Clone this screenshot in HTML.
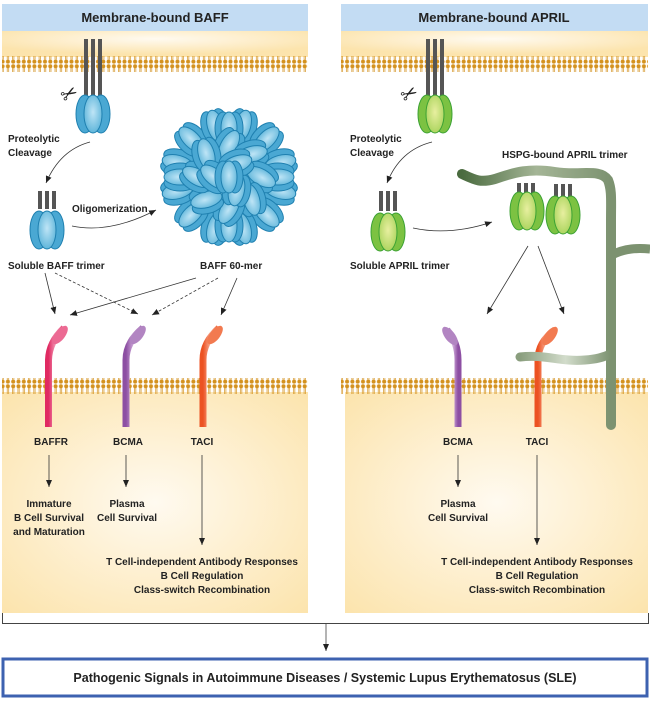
<!DOCTYPE html>
<html><head><meta charset="utf-8"><style>
html,body{margin:0;padding:0;background:#fff;}
svg{display:block;font-family:"Liberation Sans",sans-serif;font-weight:bold;}
</style></head><body>
<svg width="650" height="701" viewBox="0 0 650 701" xmlns="http://www.w3.org/2000/svg">
<defs>
<pattern id="mem" x="0" y="0" width="5.3" height="16" patternUnits="userSpaceOnUse">
<circle cx="2.6" cy="2.2" r="2" fill="#d4921f"/>
<circle cx="2.6" cy="13.6" r="2" fill="#d4921f"/>
<line x1="2" y1="4" x2="2" y2="11.8" stroke="#d4921f" stroke-width="0.7"/>
<line x1="3.3" y1="4" x2="3.3" y2="11.8" stroke="#d4921f" stroke-width="0.7"/>
</pattern>
<radialGradient id="yel" cx="0.5" cy="0.5" r="0.7">
<stop offset="0" stop-color="#fffaf0"/><stop offset="1" stop-color="#fce4ad"/>
</radialGradient>
<radialGradient id="yelt" cx="0.5" cy="0.3" r="0.6">
<stop offset="0" stop-color="#fffaf0"/><stop offset="1" stop-color="#fce4ad"/>
</radialGradient>
<radialGradient id="bmid" cx="0.5" cy="0.45" r="0.6"><stop offset="0" stop-color="#bfe5f6"/><stop offset="1" stop-color="#58b2d8"/></radialGradient>
<radialGradient id="gmid" cx="0.5" cy="0.45" r="0.6"><stop offset="0" stop-color="#e8efa0"/><stop offset="1" stop-color="#a8d35a"/></radialGradient>
<linearGradient id="hspg" x1="0" y1="0" x2="1" y2="0"><stop offset="0" stop-color="#4a6b3f"/><stop offset="0.5" stop-color="#a4b596"/><stop offset="1" stop-color="#7c9270"/></linearGradient>
<linearGradient id="hspg2" x1="0" y1="0" x2="1" y2="0"><stop offset="0" stop-color="#8a9e7e"/><stop offset="0.5" stop-color="#d2dccb"/><stop offset="1" stop-color="#7c9270"/></linearGradient>
<linearGradient id="pink" x1="0" y1="0" x2="1" y2="0"><stop offset="0" stop-color="#e02a62"/><stop offset="0.5" stop-color="#f4a3bd"/><stop offset="1" stop-color="#e02a62"/></linearGradient>
<linearGradient id="purp" x1="0" y1="0" x2="1" y2="0"><stop offset="0" stop-color="#8d4fa3"/><stop offset="0.5" stop-color="#d6b4df"/><stop offset="1" stop-color="#8d4fa3"/></linearGradient>
<linearGradient id="oran" x1="0" y1="0" x2="1" y2="0"><stop offset="0" stop-color="#ec5222"/><stop offset="0.5" stop-color="#f8b19a"/><stop offset="1" stop-color="#ec5222"/></linearGradient>
<marker id="ar" markerWidth="8" markerHeight="8" refX="7" refY="4" orient="auto" markerUnits="userSpaceOnUse">
<path d="M0,1 L7,4 L0,7 Z" fill="#222"/></marker>
<g id="btri">
<ellipse cx="-8" cy="0" rx="9" ry="19" fill="#4aa8d3" stroke="#1f80b0" stroke-width="1"/>
<ellipse cx="8" cy="0" rx="9" ry="19" fill="#4aa8d3" stroke="#1f80b0" stroke-width="1"/>
<ellipse cx="0" cy="0" rx="9" ry="19" fill="url(#bmid)" stroke="#1f80b0" stroke-width="1"/>
</g>
<g id="gtri">
<ellipse cx="-8" cy="0" rx="9" ry="19" fill="#7cc242" stroke="#3ca234" stroke-width="1"/>
<ellipse cx="8" cy="0" rx="9" ry="19" fill="#7cc242" stroke="#3ca234" stroke-width="1"/>
<ellipse cx="0" cy="0" rx="9" ry="19" fill="url(#gmid)" stroke="#3ca234" stroke-width="1"/>
</g>
<g id="pet">
<ellipse cx="-6" cy="0" rx="8" ry="16" fill="#4aa8d3" stroke="#1f80b0" stroke-width="1"/>
<ellipse cx="6" cy="0" rx="8" ry="16" fill="#4aa8d3" stroke="#1f80b0" stroke-width="1"/>
<ellipse cx="0" cy="0" rx="8" ry="16" fill="url(#bmid)" stroke="#1f80b0" stroke-width="1"/>
</g>
</defs>

<rect x="2" y="4" width="306" height="27" fill="#c3dcf3"/>
<rect x="2" y="31" width="306" height="26" fill="url(#yelt)"/>
<rect x="2" y="56" width="306" height="16" fill="url(#mem)"/>
<text x="155" y="22" font-size="13" text-anchor="middle" fill="#222">Membrane-bound BAFF</text>
<rect x="2" y="392" width="306" height="221" fill="url(#yel)"/>
<rect x="2" y="378" width="306" height="16" fill="url(#mem)"/>

<rect x="341" y="4" width="307" height="27" fill="#c3dcf3"/>
<rect x="341" y="31" width="307" height="26" fill="url(#yelt)"/>
<rect x="341" y="56" width="307" height="16" fill="url(#mem)"/>
<text x="494" y="22" font-size="13" text-anchor="middle" fill="#222">Membrane-bound APRIL</text>
<rect x="345" y="392" width="303" height="221" fill="url(#yel)"/>
<rect x="341" y="378" width="307" height="16" fill="url(#mem)"/>

<rect x="84" y="39" width="4" height="58" fill="#555"/><rect x="91" y="39" width="4" height="58" fill="#555"/><rect x="98" y="39" width="4" height="58" fill="#555"/>
<use href="#btri" transform="translate(93,114)"/>
<text x="60" y="100" font-size="20" font-weight="normal" fill="#222" transform="rotate(-30 70 92)">✂</text>
<text x="8" y="142" font-size="10" fill="#222">Proteolytic</text>
<text x="8" y="156" font-size="10" fill="#222">Cleavage</text>
<path d="M90,142 Q60,150 46,183" fill="none" stroke="#333" stroke-width="0.8" marker-end="url(#ar)"/>
<rect x="38" y="191" width="4" height="18" fill="#555"/><rect x="45" y="191" width="4" height="18" fill="#555"/><rect x="52" y="191" width="4" height="18" fill="#555"/>
<use href="#btri" transform="translate(47,230)"/>
<text x="72" y="212" font-size="10" fill="#222">Oligomerization</text>
<path d="M72,226 Q110,234 156,210" fill="none" stroke="#333" stroke-width="0.8" marker-end="url(#ar)"/>
<text x="8" y="269" font-size="10" fill="#222">Soluble BAFF trimer</text>
<text x="200" y="269" font-size="10" fill="#222">BAFF 60-mer</text>

<g transform="translate(229,177)">
<use href="#pet" transform="rotate(15) translate(0,-53)"/>
<use href="#pet" transform="rotate(45) translate(0,-53)"/>
<use href="#pet" transform="rotate(75) translate(0,-53)"/>
<use href="#pet" transform="rotate(105) translate(0,-53)"/>
<use href="#pet" transform="rotate(135) translate(0,-53)"/>
<use href="#pet" transform="rotate(165) translate(0,-53)"/>
<use href="#pet" transform="rotate(195) translate(0,-53)"/>
<use href="#pet" transform="rotate(225) translate(0,-53)"/>
<use href="#pet" transform="rotate(255) translate(0,-53)"/>
<use href="#pet" transform="rotate(285) translate(0,-53)"/>
<use href="#pet" transform="rotate(315) translate(0,-53)"/>
<use href="#pet" transform="rotate(345) translate(0,-53)"/>
<use href="#pet" transform="rotate(0) translate(0,-49)"/>
<use href="#pet" transform="rotate(90) translate(0,-49)"/>
<use href="#pet" transform="rotate(180) translate(0,-49)"/>
<use href="#pet" transform="rotate(270) translate(0,-49)"/>
<use href="#pet" transform="rotate(0) translate(0,-32) rotate(30)"/>
<use href="#pet" transform="rotate(45) translate(0,-32) rotate(30)"/>
<use href="#pet" transform="rotate(90) translate(0,-32) rotate(30)"/>
<use href="#pet" transform="rotate(135) translate(0,-32) rotate(30)"/>
<use href="#pet" transform="rotate(180) translate(0,-32) rotate(30)"/>
<use href="#pet" transform="rotate(225) translate(0,-32) rotate(30)"/>
<use href="#pet" transform="rotate(270) translate(0,-32) rotate(30)"/>
<use href="#pet" transform="rotate(315) translate(0,-32) rotate(30)"/>
<use href="#pet" transform="rotate(30) translate(0,-15) rotate(40)"/>
<use href="#pet" transform="rotate(150) translate(0,-15) rotate(40)"/>
<use href="#pet" transform="rotate(270) translate(0,-15) rotate(40)"/>
<use href="#pet"/>
</g>

<line x1="45" y1="273" x2="55" y2="314" stroke="#333" stroke-width="0.8" marker-end="url(#ar)"/>
<line x1="55" y1="273" x2="138" y2="314" stroke="#333" stroke-width="0.8" stroke-dasharray="3,2" marker-end="url(#ar)"/>
<line x1="196" y1="278" x2="70" y2="315" stroke="#333" stroke-width="0.8" marker-end="url(#ar)"/>
<line x1="218" y1="278" x2="152" y2="315" stroke="#333" stroke-width="0.8" stroke-dasharray="3,2" marker-end="url(#ar)"/>
<line x1="237" y1="278" x2="221" y2="315" stroke="#333" stroke-width="0.8" marker-end="url(#ar)"/>

<path d="M64,328 Q49,342 48.5,360 L48.5,427" fill="none" stroke="url(#pink)" stroke-width="7"/>
<ellipse cx="60" cy="335" rx="5" ry="11" transform="rotate(38 60 335)" fill="#ec6a93"/>
<path d="M143,328 Q126,342 126,360 L126,427" fill="none" stroke="url(#purp)" stroke-width="7"/>
<ellipse cx="138" cy="335" rx="5" ry="11" transform="rotate(38 138 335)" fill="#b285c2"/>
<path d="M219,328 Q203,342 203,360 L203,427" fill="none" stroke="url(#oran)" stroke-width="7"/>
<ellipse cx="215" cy="335" rx="5" ry="11" transform="rotate(38 215 335)" fill="#f27a50"/>

<g font-size="10" fill="#222" text-anchor="middle">
<text x="51" y="445">BAFFR</text>
<text x="128" y="445">BCMA</text>
<text x="202" y="445">TACI</text>
<text x="49" y="507">Immature</text>
<text x="49" y="521">B Cell Survival</text>
<text x="49" y="535">and Maturation</text>
<text x="127" y="507">Plasma</text>
<text x="127" y="521">Cell Survival</text>
<text x="202" y="565">T Cell-independent Antibody Responses</text>
<text x="202" y="579">B Cell Regulation</text>
<text x="202" y="593">Class-switch Recombination</text>
</g>
<line x1="49" y1="455" x2="49" y2="487" stroke="#333" stroke-width="0.8" marker-end="url(#ar)"/>
<line x1="126" y1="455" x2="126" y2="487" stroke="#333" stroke-width="0.8" marker-end="url(#ar)"/>
<line x1="202" y1="455" x2="202" y2="545" stroke="#333" stroke-width="0.8" marker-end="url(#ar)"/>

<rect x="426" y="39" width="4" height="58" fill="#555"/><rect x="433" y="39" width="4" height="58" fill="#555"/><rect x="440" y="39" width="4" height="58" fill="#555"/>
<use href="#gtri" transform="translate(435,114)"/>
<text x="400" y="100" font-size="20" font-weight="normal" fill="#222" transform="rotate(-30 410 92)">✂</text>
<text x="350" y="142" font-size="10" fill="#222">Proteolytic</text>
<text x="350" y="156" font-size="10" fill="#222">Cleavage</text>
<path d="M432,142 Q400,150 387,183" fill="none" stroke="#333" stroke-width="0.8" marker-end="url(#ar)"/>
<rect x="379" y="191" width="4" height="20" fill="#555"/><rect x="386" y="191" width="4" height="20" fill="#555"/><rect x="393" y="191" width="4" height="20" fill="#555"/>
<use href="#gtri" transform="translate(388,232)"/>
<text x="350" y="269" font-size="10" fill="#222">Soluble APRIL trimer</text>
<path d="M413,228 Q450,236 492,222" fill="none" stroke="#333" stroke-width="0.8" marker-end="url(#ar)"/>
<text x="502" y="158" font-size="10" fill="#222">HSPG-bound APRIL trimer</text>

<path d="M462,174 C475,180 480,183 495,179 C515,172 530,168 555,172 C580,176 600,168 608,180 C612,190 611,200 611,220 L611,425" fill="none" stroke="url(#hspg)" stroke-width="10" stroke-linecap="round"/>
<path d="M612,255 C625,248 638,248 650,249" fill="none" stroke="#7c9270" stroke-width="9"/>
<rect x="517" y="183" width="4" height="12" fill="#555"/><rect x="524" y="183" width="4" height="12" fill="#555"/><rect x="531" y="183" width="4" height="12" fill="#555"/>
<use href="#gtri" transform="translate(527,211)"/>
<rect x="554" y="184" width="4" height="14" fill="#555"/><rect x="561" y="184" width="4" height="14" fill="#555"/><rect x="568" y="184" width="4" height="14" fill="#555"/>
<use href="#gtri" transform="translate(563,215)"/>
<line x1="528" y1="246" x2="487" y2="314" stroke="#333" stroke-width="0.8" marker-end="url(#ar)"/>
<line x1="538" y1="246" x2="564" y2="314" stroke="#333" stroke-width="0.8" marker-end="url(#ar)"/>

<path d="M447,330 Q458,342 458,360 L458,427" fill="none" stroke="url(#purp)" stroke-width="7"/>
<ellipse cx="450" cy="336" rx="5" ry="11" transform="rotate(-38 450 336)" fill="#b285c2"/>
<path d="M555,330 Q538,342 538,360 L538,427" fill="none" stroke="url(#oran)" stroke-width="7"/>
<ellipse cx="550" cy="336" rx="5" ry="11" transform="rotate(38 550 336)" fill="#f27a50"/>
<path d="M520,357 C545,354 560,362 585,360 C600,359 605,356 611,354" fill="none" stroke="url(#hspg2)" stroke-width="9" stroke-linecap="round"/>

<g font-size="10" fill="#222" text-anchor="middle">
<text x="458" y="445">BCMA</text>
<text x="537" y="445">TACI</text>
<text x="458" y="507">Plasma</text>
<text x="458" y="521">Cell Survival</text>
<text x="537" y="565">T Cell-independent Antibody Responses</text>
<text x="537" y="579">B Cell Regulation</text>
<text x="537" y="593">Class-switch Recombination</text>
</g>
<line x1="458" y1="455" x2="458" y2="487" stroke="#333" stroke-width="0.8" marker-end="url(#ar)"/>
<line x1="537" y1="455" x2="537" y2="545" stroke="#333" stroke-width="0.8" marker-end="url(#ar)"/>

<path d="M2.5,613 L2.5,623.5 L648.5,623.5 L648.5,613" fill="none" stroke="#444" stroke-width="1"/>
<line x1="326" y1="624" x2="326" y2="651" stroke="#444" stroke-width="0.8" marker-end="url(#ar)"/>
<rect x="3" y="659" width="644" height="37" fill="#fff" stroke="#3d62b0" stroke-width="3"/>
<text x="325" y="682" font-size="12.5" text-anchor="middle" fill="#222">Pathogenic Signals in Autoimmune Diseases / Systemic Lupus Erythematosus (SLE)</text>
</svg>
</body></html>
